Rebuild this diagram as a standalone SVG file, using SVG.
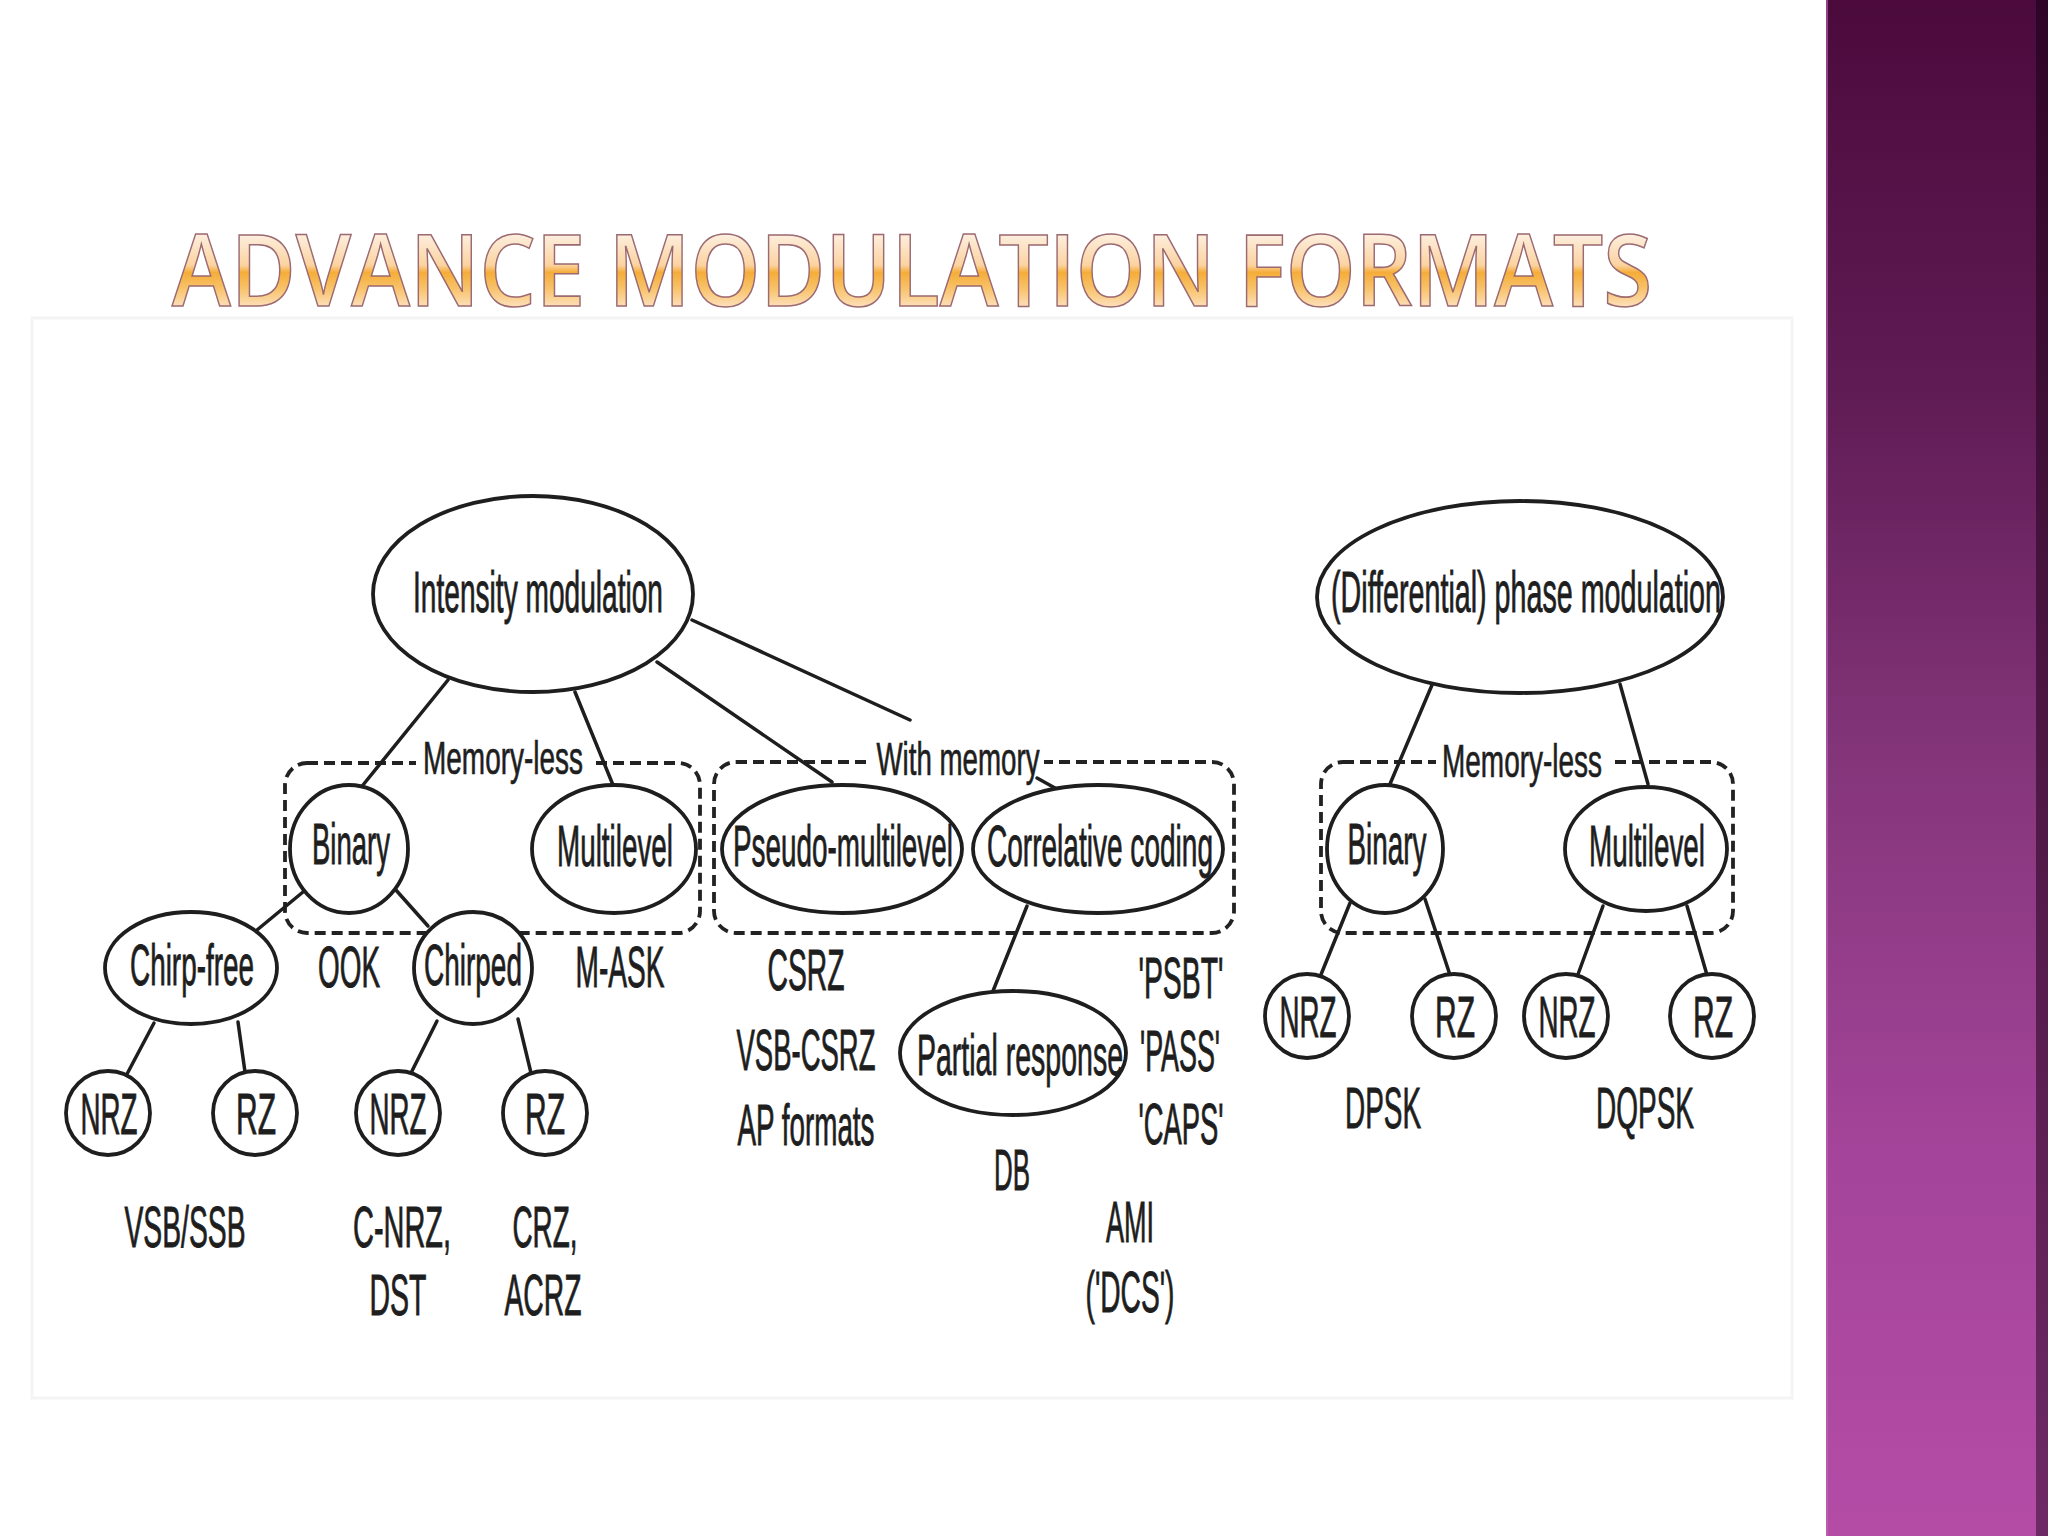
<svg xmlns="http://www.w3.org/2000/svg" width="2048" height="1536" viewBox="0 0 2048 1536">
  <defs>
    <linearGradient id="bar" x1="0" y1="0" x2="0" y2="1">
      <stop offset="0" stop-color="#4b0a3c"/>
      <stop offset="0.25" stop-color="#5f1b54"/>
      <stop offset="0.5" stop-color="#85367b"/>
      <stop offset="0.75" stop-color="#a4449a"/>
      <stop offset="1" stop-color="#b44ca6"/>
    </linearGradient>
    <linearGradient id="barEdge" x1="0" y1="0" x2="0" y2="1">
      <stop offset="0" stop-color="#2e0526"/>
      <stop offset="1" stop-color="#6e2a64"/>
    </linearGradient>
    <linearGradient id="title" x1="0" y1="235" x2="0" y2="307" gradientUnits="userSpaceOnUse">
      <stop offset="0" stop-color="#fdeedd"/>
      <stop offset="0.42" stop-color="#fbd3a0"/>
      <stop offset="0.52" stop-color="#f5ad38"/>
      <stop offset="0.75" stop-color="#f8c36c"/>
      <stop offset="1" stop-color="#fde0bb"/>
    </linearGradient>
    <style>
      .node { fill: #ffffff; stroke: #1e1e1e; stroke-width: 3.8; }
      .box { fill: none; stroke: #222222; stroke-width: 3.8; stroke-dasharray: 11 6; }
      .edge { fill: none; stroke: #1e1e1e; stroke-width: 3.5; stroke-linecap: round; }
      .t { font-family: "Liberation Sans", Arial, sans-serif; font-size: 58px; fill: #1e1e1e; stroke: #1e1e1e; stroke-width: 0.9; text-anchor: middle; }
      .lbl { font-family: "Liberation Sans", Arial, sans-serif; font-size: 46px; fill: #1e1e1e; stroke: #1e1e1e; stroke-width: 0.7; text-anchor: middle; }
      .mask { fill: #ffffff; stroke: none; }
    </style>
  </defs>

  <!-- background -->
  <rect x="0" y="0" width="2048" height="1536" fill="#ffffff"/>
  <rect x="32" y="318" width="1760" height="1080" fill="none" stroke="#f4f4f4" stroke-width="3"/>

  <!-- right decorative bar -->
  <rect x="1826" y="0" width="222" height="1536" fill="url(#bar)"/>
  <rect x="2036" y="0" width="12" height="1536" fill="url(#barEdge)"/>
  <rect x="1826" y="0" width="2" height="1536" fill="#c068b4" opacity="0.6"/>

  <!-- title -->
  <text x="912" y="306" font-family="'Open Sans', 'Noto Sans', sans-serif" font-weight="600" font-size="100" text-anchor="middle" textLength="1480" lengthAdjust="spacingAndGlyphs" fill="url(#title)" stroke="#9c6a72" stroke-width="1.6">ADVANCE MODULATION FORMATS</text>

  <!-- grouping boxes -->
  <g id="groups">
    <rect class="box" x="285" y="763" width="415" height="170" rx="22"/>
    <rect class="box" x="714" y="762" width="520" height="171" rx="22"/>
    <rect class="box" x="1321" y="762" width="412" height="171" rx="22"/>
    <rect class="mask" x="416" y="740" width="174" height="50"/>
    <rect class="mask" x="872" y="740" width="172" height="50"/>
    <rect class="mask" x="1436" y="740" width="173" height="50"/>
    <text class="lbl" x="503" y="774" textLength="160" lengthAdjust="spacingAndGlyphs">Memory-less</text>
    <text class="lbl" x="958" y="775" textLength="163" lengthAdjust="spacingAndGlyphs">With memory</text>
    <text class="lbl" x="1522" y="777" textLength="160" lengthAdjust="spacingAndGlyphs">Memory-less</text>
  </g>

  <!-- connectors -->
  <g id="connectors">
    <line class="edge" x1="448" y1="680" x2="363" y2="785"/>
    <line class="edge" x1="575" y1="692" x2="613" y2="785"/>
    <line class="edge" x1="657" y1="662" x2="832" y2="782"/>
    <line class="edge" x1="692" y1="620" x2="910" y2="720"/>
    <line class="edge" x1="1037" y1="778" x2="1055" y2="788"/>
    <line class="edge" x1="303" y1="892" x2="257" y2="930"/>
    <line class="edge" x1="395" y1="889" x2="428" y2="926"/>
    <line class="edge" x1="154" y1="1023" x2="127" y2="1074"/>
    <line class="edge" x1="238" y1="1022" x2="245" y2="1072"/>
    <line class="edge" x1="437" y1="1021" x2="411" y2="1073"/>
    <line class="edge" x1="518" y1="1019" x2="531" y2="1073"/>
    <line class="edge" x1="1027" y1="906" x2="993" y2="991"/>
    <line class="edge" x1="1432" y1="685" x2="1390" y2="784"/>
    <line class="edge" x1="1620" y1="684" x2="1648" y2="784"/>
    <line class="edge" x1="1350" y1="903" x2="1320" y2="977"/>
    <line class="edge" x1="1425" y1="899" x2="1450" y2="975"/>
    <line class="edge" x1="1603" y1="906" x2="1577" y2="977"/>
    <line class="edge" x1="1687" y1="906" x2="1707" y2="975"/>
  </g>

  <!-- intensity modulation tree -->
  <g id="intensity">
    <ellipse class="node" cx="533" cy="594" rx="160" ry="98"/>
    <text class="t" x="538" y="612" textLength="250" lengthAdjust="spacingAndGlyphs">Intensity modulation</text>
  </g>
  <g id="binary-im">
    <ellipse class="node" cx="349" cy="849" rx="59" ry="64"/>
    <text class="t" x="351" y="864" textLength="78" lengthAdjust="spacingAndGlyphs">Binary</text>
  </g>
  <g id="multilevel-im">
    <ellipse class="node" cx="614" cy="849" rx="82" ry="64"/>
    <text class="t" x="615" y="866" textLength="116" lengthAdjust="spacingAndGlyphs">Multilevel</text>
  </g>
  <g id="pseudo-multilevel">
    <ellipse class="node" cx="842" cy="849" rx="120" ry="64"/>
    <text class="t" x="843" y="866" textLength="220" lengthAdjust="spacingAndGlyphs">Pseudo-multilevel</text>
  </g>
  <g id="correlative-coding">
    <ellipse class="node" cx="1098" cy="849" rx="125" ry="64"/>
    <text class="t" x="1100" y="866" textLength="226" lengthAdjust="spacingAndGlyphs">Correlative coding</text>
  </g>
  <g id="chirp-free">
    <ellipse class="node" cx="191" cy="968" rx="86" ry="56"/>
    <text class="t" x="192" y="985" textLength="124" lengthAdjust="spacingAndGlyphs">Chirp-free</text>
  </g>
  <g id="ook"><text class="t" x="349" y="987" textLength="62" lengthAdjust="spacingAndGlyphs">OOK</text></g>
  <g id="chirped">
    <ellipse class="node" cx="473" cy="968" rx="59" ry="56"/>
    <text class="t" x="473" y="985" textLength="98" lengthAdjust="spacingAndGlyphs">Chirped</text>
  </g>
  <g id="m-ask"><text class="t" x="620" y="987" textLength="89" lengthAdjust="spacingAndGlyphs">M-ASK</text></g>

  <g id="nrz-cf">
    <circle class="node" cx="108" cy="1113" r="42"/>
    <text class="t" x="109" y="1134" textLength="57" lengthAdjust="spacingAndGlyphs">NRZ</text>
  </g>
  <g id="rz-cf">
    <circle class="node" cx="255" cy="1113" r="42"/>
    <text class="t" x="256" y="1134" textLength="40" lengthAdjust="spacingAndGlyphs">RZ</text>
  </g>
  <g id="nrz-ch">
    <circle class="node" cx="398" cy="1113" r="42"/>
    <text class="t" x="398" y="1134" textLength="57" lengthAdjust="spacingAndGlyphs">NRZ</text>
  </g>
  <g id="rz-ch">
    <circle class="node" cx="545" cy="1113" r="42"/>
    <text class="t" x="545" y="1134" textLength="40" lengthAdjust="spacingAndGlyphs">RZ</text>
  </g>
  <g id="vsb-ssb"><text class="t" x="185" y="1247" textLength="121" lengthAdjust="spacingAndGlyphs">VSB/SSB</text></g>
  <g id="c-nrz-dst">
    <text class="t" x="402" y="1247" textLength="98" lengthAdjust="spacingAndGlyphs">C-NRZ,</text>
    <text class="t" x="398" y="1315" textLength="57" lengthAdjust="spacingAndGlyphs">DST</text>
  </g>
  <g id="crz-acrz">
    <text class="t" x="545" y="1247" textLength="65" lengthAdjust="spacingAndGlyphs">CRZ,</text>
    <text class="t" x="543" y="1315" textLength="77" lengthAdjust="spacingAndGlyphs">ACRZ</text>
  </g>

  <g id="pseudo-examples">
    <text class="t" x="806" y="990" textLength="77" lengthAdjust="spacingAndGlyphs">CSRZ</text>
    <text class="t" x="806" y="1070" textLength="139" lengthAdjust="spacingAndGlyphs">VSB-CSRZ</text>
    <text class="t" x="806" y="1145" textLength="137" lengthAdjust="spacingAndGlyphs">AP formats</text>
  </g>
  <g id="partial-response">
    <ellipse class="node" cx="1013" cy="1053" rx="113" ry="62"/>
    <text class="t" x="1020" y="1075" textLength="206" lengthAdjust="spacingAndGlyphs">Partial response</text>
  </g>
  <g id="db"><text class="t" x="1012" y="1190" textLength="36" lengthAdjust="spacingAndGlyphs">DB</text></g>
  <g id="correlative-examples">
    <text class="t" x="1181" y="998" textLength="85" lengthAdjust="spacingAndGlyphs">'PSBT'</text>
    <text class="t" x="1180" y="1071" textLength="80" lengthAdjust="spacingAndGlyphs">'PASS'</text>
    <text class="t" x="1181" y="1144" textLength="85" lengthAdjust="spacingAndGlyphs">'CAPS'</text>
  </g>
  <g id="ami-dcs">
    <text class="t" x="1130" y="1242" textLength="48" lengthAdjust="spacingAndGlyphs">AMI</text>
    <text class="t" x="1130" y="1312" textLength="89" lengthAdjust="spacingAndGlyphs">('DCS')</text>
  </g>

  <!-- phase modulation tree -->
  <g id="phase-modulation">
    <ellipse class="node" cx="1520" cy="597" rx="203" ry="96"/>
    <text class="t" x="1526" y="612" textLength="390" lengthAdjust="spacingAndGlyphs">(Differential) phase modulation</text>
  </g>
  <g id="binary-pm">
    <ellipse class="node" cx="1385" cy="849" rx="58" ry="64"/>
    <text class="t" x="1387" y="864" textLength="79" lengthAdjust="spacingAndGlyphs">Binary</text>
  </g>
  <g id="multilevel-pm">
    <ellipse class="node" cx="1646" cy="849" rx="81" ry="62"/>
    <text class="t" x="1647" y="866" textLength="116" lengthAdjust="spacingAndGlyphs">Multilevel</text>
  </g>
  <g id="nrz-dpsk">
    <circle class="node" cx="1307" cy="1016" r="42"/>
    <text class="t" x="1308" y="1037" textLength="57" lengthAdjust="spacingAndGlyphs">NRZ</text>
  </g>
  <g id="rz-dpsk">
    <circle class="node" cx="1454" cy="1016" r="42"/>
    <text class="t" x="1455" y="1037" textLength="40" lengthAdjust="spacingAndGlyphs">RZ</text>
  </g>
  <g id="nrz-dqpsk">
    <circle class="node" cx="1566" cy="1016" r="42"/>
    <text class="t" x="1567" y="1037" textLength="57" lengthAdjust="spacingAndGlyphs">NRZ</text>
  </g>
  <g id="rz-dqpsk">
    <circle class="node" cx="1712" cy="1016" r="42"/>
    <text class="t" x="1713" y="1037" textLength="40" lengthAdjust="spacingAndGlyphs">RZ</text>
  </g>
  <g id="dpsk"><text class="t" x="1383" y="1128" textLength="76" lengthAdjust="spacingAndGlyphs">DPSK</text></g>
  <g id="dqpsk"><text class="t" x="1645" y="1128" textLength="98" lengthAdjust="spacingAndGlyphs">DQPSK</text></g>
</svg>
